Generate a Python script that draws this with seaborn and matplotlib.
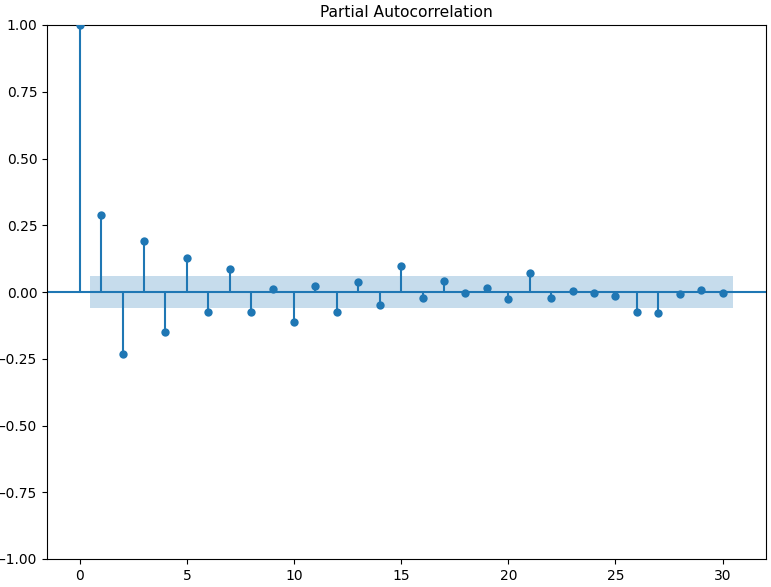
import numpy as np
import pandas as pd
import matplotlib
matplotlib.use("Agg")
import matplotlib.pyplot as plt
import seaborn as sns

lags = list(range(31))
pacf_values = [1.0, 0.288, -0.232, 0.191, -0.150, 0.127, -0.075, 0.086, -0.075, 0.011,
               -0.112, 0.022, -0.075, 0.037, -0.049, 0.097, -0.022, 0.041, -0.004, 0.015,
               -0.026, 0.071, -0.022, 0.004, -0.004, -0.015, -0.075, -0.079, -0.008, 0.007,
               -0.003]
conf_limit = 0.06
title = "Partial Autocorrelation"
ytick_values = [-1, -0.75, -0.5, -0.25, 0, 0.25, 0.5, 0.75, 1]
xtick_values = [0, 5, 10, 15, 20, 25, 30]

df = pd.DataFrame({"lag": lags, "pacf": pacf_values})

fig = plt.figure(figsize=(7.71, 5.87), dpi=100)
ax = fig.add_axes([47 / 771, 1 - 559 / 587, (766 - 47) / 771, (559 - 25) / 587])
color = "#1f77b4"

ax.vlines(df["lag"], 0, df["pacf"], colors=color, linewidth=1.5)
ax.axhline(0, color=color, linewidth=1.5)
sns.scatterplot(data=df, x="lag", y="pacf", ax=ax, color=color, s=36, edgecolor=color,
                linewidth=0, zorder=3, legend=False)

band_x = np.array(lags[1:], dtype=float)
band_x[0] -= 0.5
band_x[-1] += 0.5
ax.fill_between(band_x, -conf_limit, conf_limit, color=color, alpha=0.25, linewidth=0)

ax.set_ylim(-1, 1)
ax.set_xlim(-1.525, 32.025)
ax.set_yticks(ytick_values)
ax.set_yticklabels([f"{v:.2f}".replace("-", "\u2212") for v in ytick_values])
ax.set_xticks(xtick_values)
ax.set_xlabel("")
ax.set_ylabel("")
ax.set_title(title, fontsize=11.2)

fig.savefig("out.png", dpi=100)
